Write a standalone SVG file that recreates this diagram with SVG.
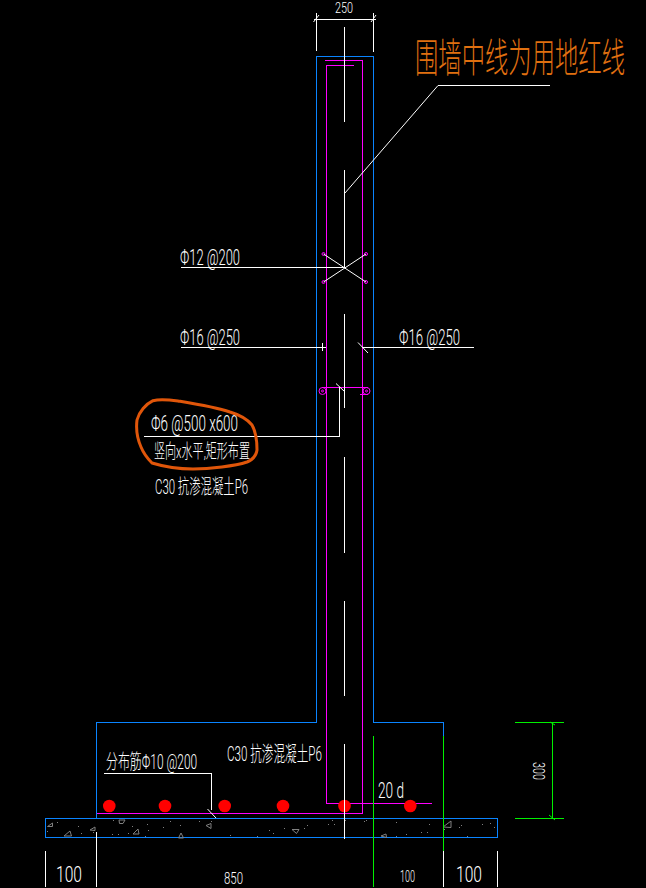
<svg xmlns="http://www.w3.org/2000/svg" width="646" height="888" viewBox="0 0 646 888">
<style>
.w{fill:none;stroke:#fff;stroke-width:1}
.b{fill:none;stroke:#0a84ff;stroke-width:1;shape-rendering:crispEdges}
.m{fill:none;stroke:#ff00ff;stroke-width:1}
.g{fill:none;stroke:#00f000;stroke-width:1;shape-rendering:crispEdges}
.y{fill:none;stroke:#808080;stroke-width:1}
.o{shape-rendering:crispEdges}
text{fill:#fff;font-family:"Roboto","Liberation Sans","Noto Sans CJK SC",sans-serif;font-weight:300}
.t{font-size:22px}
.s{font-size:17px}
.c{font-size:19px;font-family:"Roboto","Noto Sans CJK SC",sans-serif}
</style>
<rect width="646" height="888" fill="#000"/>
<g id="wall">
<path class="b" d="M96.500 818V722.500H316.500V56.500H373.500V722.500H443.500V736"/>
<path class="m o" d="M325 60.500H362.500V813.500H96.500"/>
<path class="m o" d="M354 65.500H326.500V803.500H432"/>
</g>
<g id="blinding">
<rect class="b" x="45.500" y="818.500" width="452" height="19"/>
<path class="y" d="M47.500 826.500l5-3.500v3.500zM64 836l6-5 1.500 5zM90 830l5-3v3.500zM119 820h6l-2 3.500h-3.500zM133 834l5-5 1 5zM178.500 838l2.500-5 2.500 5zM206 825.500l5-2v5zM292 829.500h7l-2.500 4zM381 836l5-2 .5 3.500zM443 827l8-6v6.500z"/>
<path fill="#808080" d="M57 822h1v1h-1zM47 831h1v1h-1zM78 826h1v1h-1zM81 833h1v1h-1zM93 832h1v1h-1zM113 820h1v1h-1zM112 834h1v1h-1zM118 834h1v1h-1zM128 833h1v1h-1zM132 826h1v1h-1zM147 824h1v1h-1zM148 830h1v1h-1zM145 836h1v1h-1zM163 827h1v1h-1zM170 821h1v1h-1zM180 825h1v1h-1zM199 821h1v1h-1zM211 821h1v1h-1zM230 835h1v1h-1zM257 836h1v1h-1zM269 830h1v1h-1zM273 833h1v1h-1zM284 828h1v1h-1zM304 828h1v1h-1zM307 825h1v1h-1zM328 824h1v1h-1zM332 820h1v1h-1zM334 824h1v1h-1zM345 820h1v1h-1zM364 821h1v1h-1zM366 820h1v1h-1zM396 822h1v1h-1zM396 836h1v1h-1zM406 834h1v1h-1zM421 832h1v1h-1zM427 832h1v1h-1zM429 824h1v1h-1zM444 829h1v1h-1zM459 827h1v1h-1zM461 825h1v1h-1zM467 836h1v1h-1zM482 824h1v1h-1zM490 823h1v1h-1zM494 827h1v1h-1z"/>
</g>
<g id="rebar">
<circle cx="109.300" cy="806" r="6.300" fill="#f00"/>
<circle cx="165" cy="806" r="6.300" fill="#f00"/>
<circle cx="224.700" cy="806" r="6.300" fill="#f00"/>
<circle cx="283" cy="806" r="6.300" fill="#f00"/>
<circle cx="344.500" cy="806" r="6.300" fill="#f00"/>
<circle cx="410.300" cy="806" r="6.300" fill="#f00"/>
</g>
<g id="ties">
<circle class="m" cx="323.500" cy="254" r="1.500"/><circle class="m" cx="366" cy="254" r="1.500"/><circle class="m" cx="323.500" cy="282" r="1.500"/><circle class="m" cx="366" cy="282" r="1.500"/>
<path class="m o" d="M322 387.500H368"/>
<path class="m o" d="M360 394.500H368"/>
<circle class="m" cx="322.500" cy="391" r="3.500"/><circle class="m" cx="322.500" cy="391" r="1"/>
<circle class="m" cx="366.500" cy="391" r="3.500"/><circle class="m" cx="366.500" cy="391" r="1"/>
</g>
<g id="connectors">
<path class="w o" d="M344.500 27V122M344.500 170V267M344.500 314V408M344.500 457V553M344.500 601V696M344.500 744V839"/>
<path class="w o" d="M316.500 13V51M373.500 13V52M314 19.500H376"/>
<path class="w" d="M313.500 22L319 15M371 22L376 15"/>
<path class="w" d="M550 85.500H438L345 193"/>
<path class="w o" d="M181 267.500H345"/>
<path class="w" d="M323.500 254L366 282M366 254L323.500 282"/>
<path class="w o" d="M181 347.500H326M322.500 343V351M474 347.500H362"/>
<path class="w" d="M358 342.500L368 353"/>
<path class="w o" d="M144 436.500H339.500V387"/>
<path class="w" d="M336 383.500L344 391"/>
<path class="w o" d="M104 773.500H211.500V810"/>
<path class="w" d="M207.500 809L216 818"/>
<path class="w o" d="M45.500 851V887M96.500 832V887M443.500 851V887M497.500 851V887"/>
<path class="g" d="M373.500 736V887M443.500 736V851M515 722.500H564M515 818.500H564M552.500 722.500V818.500"/>
<path class="g" style="shape-rendering:auto" d="M550 722L555 725M549 815L555 820"/>
</g>
<g id="title"><text transform="translate(415,72) scale(.58,1)" font-size="40" textLength="362" lengthAdjust="spacingAndGlyphs" style="fill:#e07010;font-family:'Noto Sans CJK SC',sans-serif;font-weight:300">围墙中线为用地红线</text></g>
<g id="labels">
<text x="335" y="13" textLength="18" lengthAdjust="spacingAndGlyphs" style="font-size:15px">250</text>
<text class="t" x="180" y="265" textLength="60" lengthAdjust="spacingAndGlyphs">Φ12 @200</text>
<text class="t" x="180" y="345" textLength="60" lengthAdjust="spacingAndGlyphs">Φ16 @250</text>
<text class="t" x="399" y="345" textLength="61" lengthAdjust="spacingAndGlyphs">Φ16 @250</text>
<text class="t" x="151" y="431" textLength="87" lengthAdjust="spacingAndGlyphs">Φ6 @500 x600</text>
<text class="c" x="154" y="458" textLength="96" lengthAdjust="spacingAndGlyphs">竖向x水平,矩形布置</text>
<text class="c" x="155" y="494" textLength="93" lengthAdjust="spacingAndGlyphs" style="font-size:20px">C30 抗渗混凝土P6</text>
<text class="c" transform="translate(106,769) scale(.62,1)" textLength="147" lengthAdjust="spacingAndGlyphs" style="font-size:20px">分布筋Φ10 @200</text>
<text class="c" transform="translate(227,761) scale(.62,1)" textLength="153" lengthAdjust="spacingAndGlyphs" style="font-size:21px">C30 抗渗混凝土P6</text>
<text class="t" x="378" y="798" textLength="26" lengthAdjust="spacingAndGlyphs">20 d</text>
<text class="t" x="56" y="882" textLength="26" lengthAdjust="spacingAndGlyphs">100</text>
<text class="s" x="224" y="884" textLength="19" lengthAdjust="spacingAndGlyphs">850</text>
<text class="s" x="400" y="882" textLength="15" lengthAdjust="spacingAndGlyphs">100</text>
<text class="t" x="456" y="882" textLength="26" lengthAdjust="spacingAndGlyphs">100</text>
<text transform="translate(533,762) rotate(90)" textLength="18" lengthAdjust="spacingAndGlyphs" style="font-size:16px">300</text>
</g>
<g id="highlight"><path d="M153 400.700C160 399 170 400 178 401C190 403 215 407 230 412C240 415 248 420 252 425C256 432 257 442 257 450C256 457 252 460 247 462C235 466 210 469 193 469C180 469 165 467 152 463C147 458 143 452 141 447C137 438 136 428 137 420C139 412 146 404 153 400.700Z" fill="none" stroke="#e0560a" stroke-width="3"/></g>
</svg>
